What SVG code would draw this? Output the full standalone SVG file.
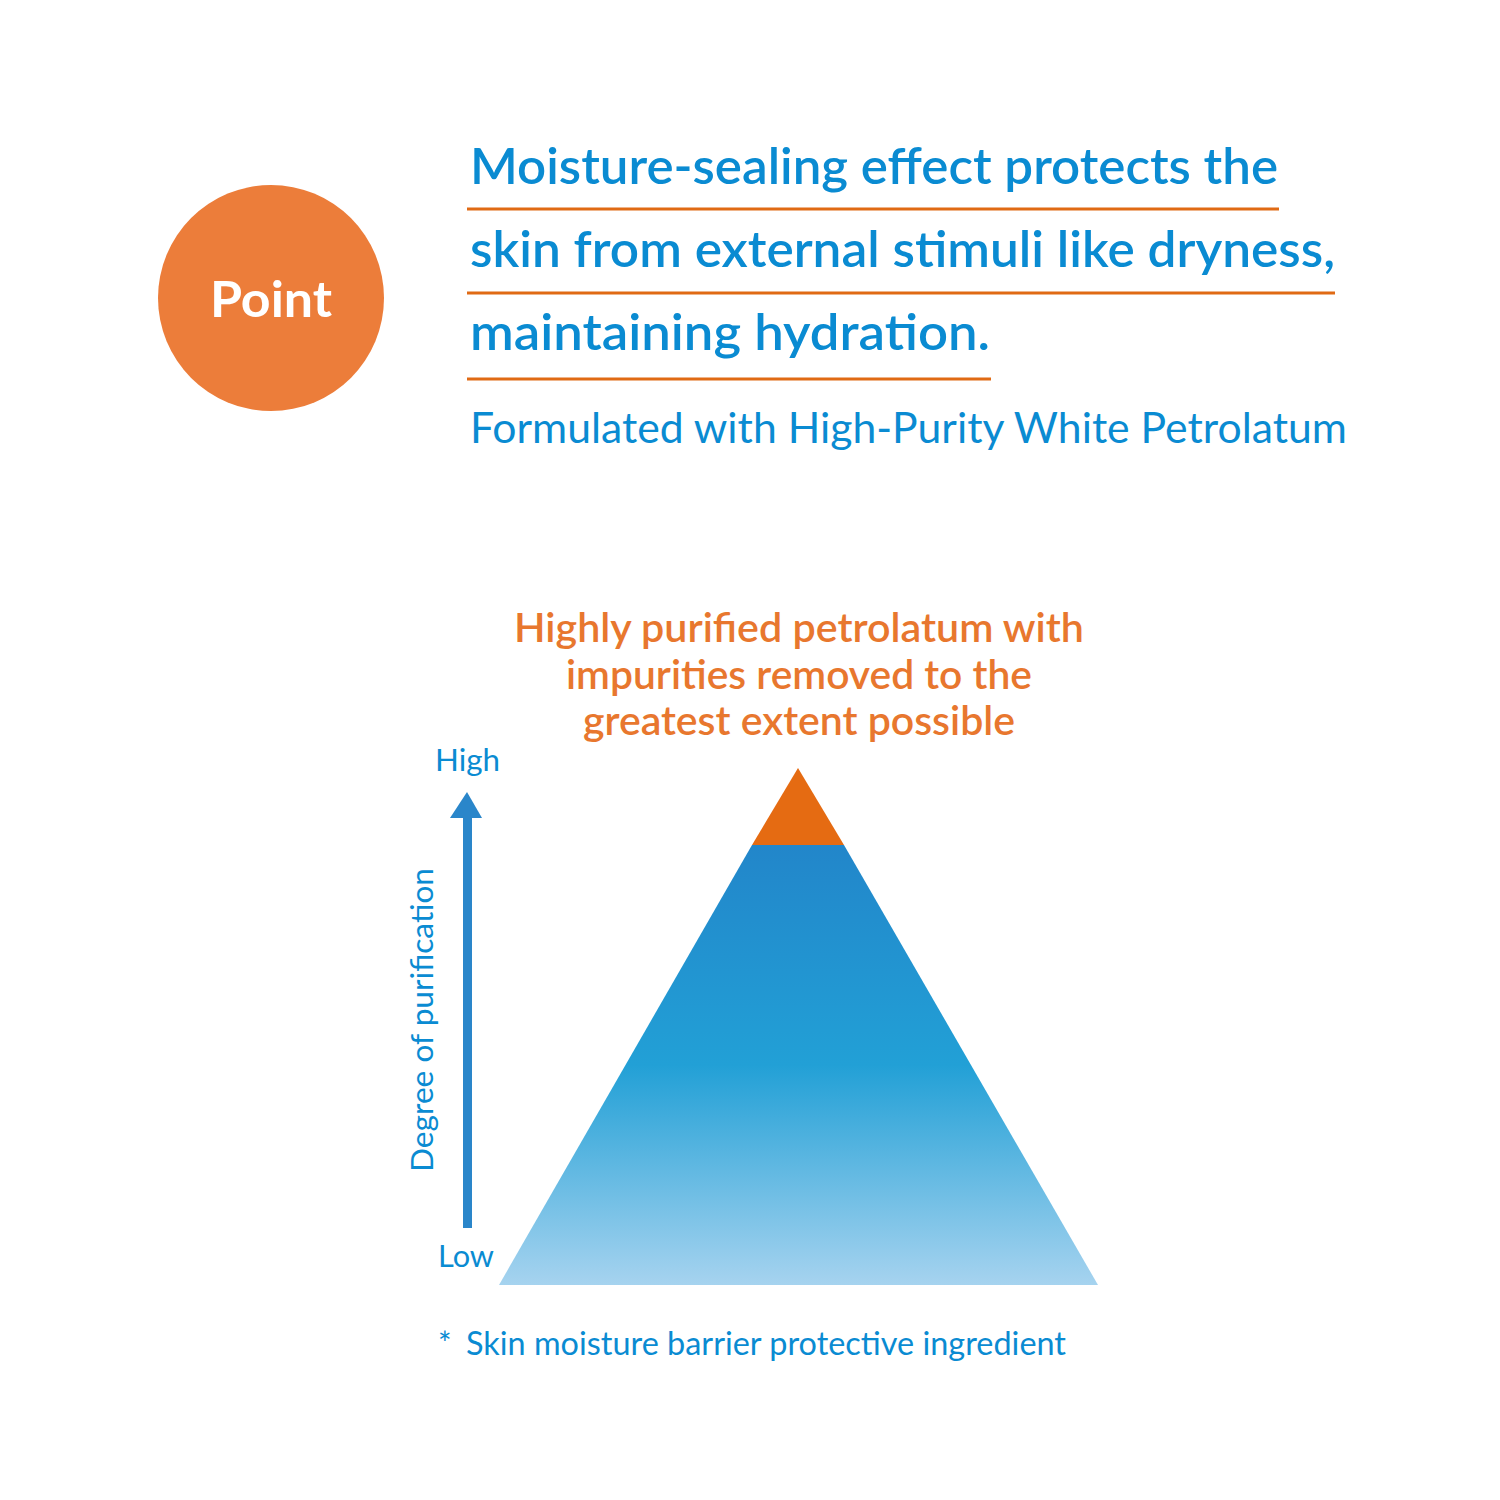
<svg xmlns="http://www.w3.org/2000/svg" width="1500" height="1500" viewBox="0 0 1500 1500">
<defs>
<style>
.blue{fill:#0A8BD2;font-family:"Lato","Noto Sans","Liberation Sans",sans-serif}
.head{font-size:50px;font-weight:600}
.orange{fill:#E8772E;font-family:"Lato","Noto Sans","Liberation Sans",sans-serif;font-size:40px;font-weight:600}
.ul{stroke:#E06A14;stroke-width:3}
</style>
<linearGradient id="tri" x1="0" y1="845" x2="0" y2="1285" gradientUnits="userSpaceOnUse">
<stop offset="0" stop-color="#2286CA"/>
<stop offset="0.5" stop-color="#22A0D6"/>
<stop offset="1" stop-color="#A6D3EF"/>
</linearGradient>
</defs>
<rect width="1500" height="1500" fill="#ffffff"/>
<g id="point">
<circle cx="271" cy="298" r="113" fill="#EC7D3A"/>
<text x="271" y="317" text-anchor="middle" font-family="Lato,'Noto Sans','Liberation Sans',sans-serif" font-weight="700" font-size="50" fill="#ffffff" textLength="122" lengthAdjust="spacingAndGlyphs">Point</text>
</g>
<g id="heading">
<text class="blue head" x="470" y="184" textLength="808" lengthAdjust="spacingAndGlyphs">Moisture-sealing effect protects the</text>
<line class="ul" x1="467" y1="209" x2="1279" y2="209"/>
<text class="blue head" x="470" y="267" textLength="865" lengthAdjust="spacingAndGlyphs">skin from external stimuli like dryness,</text>
<line class="ul" x1="467" y1="293" x2="1335" y2="293"/>
<text class="blue head" x="470" y="350" textLength="520" lengthAdjust="spacingAndGlyphs">maintaining hydration.</text>
<line class="ul" x1="467" y1="379" x2="991" y2="379"/>
<text class="blue" x="470" y="443" font-size="42" textLength="877" lengthAdjust="spacingAndGlyphs">Formulated with High-Purity White Petrolatum</text>
</g>
<g id="caption">
<text class="orange" x="799" y="642" text-anchor="middle" textLength="570" lengthAdjust="spacingAndGlyphs">Highly purified petrolatum with</text>
<text class="orange" x="799" y="689" text-anchor="middle" textLength="466" lengthAdjust="spacingAndGlyphs">impurities removed to the</text>
<text class="orange" x="799" y="735" text-anchor="middle" textLength="432" lengthAdjust="spacingAndGlyphs">greatest extent possible</text>
</g>
<g id="axis">
<text class="blue" x="435" y="771" font-size="31" textLength="65" lengthAdjust="spacingAndGlyphs">High</text>
<polygon points="467,792 482,818 450,818" fill="#2A86CA"/>
<rect x="463" y="816" width="9" height="412" fill="#2A86CA"/>
<text class="blue" transform="translate(433 1172) rotate(-90)" x="0" y="0" font-size="31" textLength="304" lengthAdjust="spacingAndGlyphs">Degree of purification</text>
<text class="blue" x="438" y="1267" font-size="31" textLength="56" lengthAdjust="spacingAndGlyphs">Low</text>
</g>
<g id="pyramid">
<polygon points="752,845 844,845 1098,1285 499,1285" fill="url(#tri)"/>
<polygon points="798,768 844,845 752,845" fill="#E56B12"/>
</g>
<g id="footnote">
<text class="blue" font-size="32"><tspan x="438" y="1355">*</tspan><tspan x="466" y="1355" textLength="600" lengthAdjust="spacingAndGlyphs">Skin moisture barrier protective ingredient</tspan></text>
</g>
</svg>
